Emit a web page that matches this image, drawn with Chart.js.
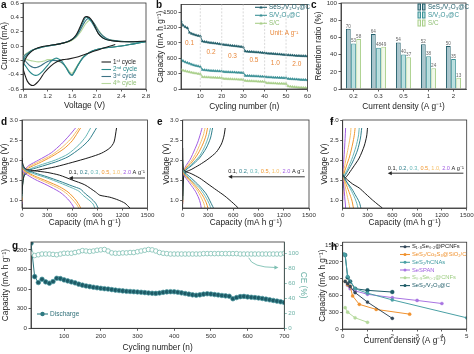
<!DOCTYPE html>
<html><head><meta charset="utf-8">
<script src="https://cdn.jsdelivr.net/npm/chart.js@4.4.0/dist/chart.umd.min.js"></script>
<style>
html,body{margin:0;padding:0;background:#fff;}
#wrap{position:relative;width:474px;height:354px;overflow:hidden;background:#fff;}
#wrap canvas{position:absolute;left:0;top:0;}
</style></head><body><div id="wrap"></div>
<script>
// ---------------- DATA ----------------
// a: cyclic voltammetry (voltage V, current mA)
const cvLabels = ['1ˢᵗ cycle','2ⁿᵈ cycle','3ʳᵈ cycle','4ᵗʰ cycle'];
const cv1V = [2.30,2.10,1.90,1.70,1.55,1.45,1.35,1.25,1.15,1.08,1.02,0.97,0.92,0.87,0.83,0.80,0.82,0.86,0.92,1.00,1.10,1.25,1.45,1.58,1.66,1.72,1.77,1.80,1.84,1.90,1.96,2.02,2.10,2.20,2.40,2.60,2.80];
const cv1I = [0.02,-0.03,-0.09,-0.15,-0.18,-0.19,-0.22,-0.28,-0.37,-0.46,-0.52,-0.55,-0.54,-0.49,-0.40,-0.30,-0.22,-0.15,-0.09,-0.04,-0.01,0.01,0.04,0.08,0.15,0.25,0.35,0.40,0.41,0.38,0.29,0.18,0.11,0.08,0.06,0.06,0.07];
const cv2V = [2.80,2.60,2.40,2.20,2.00,1.88,1.78,1.70,1.64,1.60,1.56,1.50,1.44,1.38,1.33,1.27,1.20,1.12,1.05,1.00,0.95,0.90,0.85,0.80,0.83,0.88,0.95,1.05,1.20,1.40,1.55,1.65,1.72,1.78,1.82,1.86,1.92,1.98,2.05,2.15,2.30,2.50,2.80];
const cv2I = [0.06,0.03,0.00,-0.02,-0.05,-0.09,-0.16,-0.26,-0.36,-0.41,-0.39,-0.30,-0.22,-0.18,-0.17,-0.20,-0.27,-0.35,-0.40,-0.41,-0.39,-0.35,-0.29,-0.22,-0.16,-0.11,-0.06,-0.03,0.00,0.03,0.07,0.13,0.23,0.34,0.40,0.39,0.33,0.24,0.15,0.09,0.07,0.06,0.06];
const cv3V = [2.80,2.60,2.40,2.20,2.00,1.88,1.78,1.70,1.64,1.60,1.56,1.50,1.44,1.38,1.30,1.22,1.15,1.08,1.02,0.97,0.92,0.87,0.83,0.80,0.83,0.88,0.95,1.05,1.20,1.40,1.55,1.65,1.73,1.80,1.85,1.90,1.96,2.02,2.10,2.20,2.35,2.55,2.80];
const cv3I = [0.06,0.03,0.00,-0.02,-0.05,-0.09,-0.16,-0.26,-0.35,-0.40,-0.38,-0.30,-0.24,-0.21,-0.20,-0.21,-0.24,-0.28,-0.30,-0.30,-0.28,-0.24,-0.20,-0.17,-0.13,-0.10,-0.06,-0.03,0.00,0.03,0.07,0.12,0.22,0.33,0.38,0.37,0.31,0.22,0.14,0.09,0.07,0.06,0.06];
const cv4V = [2.80,2.60,2.40,2.20,2.00,1.88,1.78,1.70,1.64,1.60,1.56,1.50,1.44,1.36,1.28,1.20,1.14,1.08,1.02,0.96,0.90,0.85,0.80,0.83,0.88,0.95,1.05,1.20,1.40,1.55,1.65,1.74,1.82,1.88,1.92,1.97,2.03,2.10,2.20,2.35,2.55,2.80];
const cv4I = [0.06,0.03,0.00,-0.02,-0.05,-0.09,-0.15,-0.25,-0.33,-0.38,-0.36,-0.29,-0.24,-0.21,-0.19,-0.19,-0.21,-0.22,-0.22,-0.21,-0.20,-0.18,-0.15,-0.12,-0.09,-0.06,-0.03,0.00,0.03,0.06,0.11,0.20,0.31,0.36,0.35,0.30,0.22,0.14,0.09,0.07,0.06,0.06];

// b: rate capability (cycle, mA h/g)
const bLabels = ['SeS₂/V₂O₃@C','S/V₂O₃@C','S/C'];
const bCycles = [1,2,3,4,5,6,7,8,9,10,11,12,13,14,15,16,17,18,19,20,21,22,23,24,25,26,27,28,29,30,31,32,33,34,35,36,37,38,39,40,41,42,43,44,45,46,47,48,49,50,51,52,53,54,55,56,57,58,59,60];
const bSeS2 = [1320,1240,1210,1190,1100,1080,1065,1050,1040,1030, 930,920,915,905,900,895,890,885,878,872, 865,860,855,850,845,840,835,830,825,815, 735,730,728,725,722,718,715,712,708,703, 695,692,690,687,684,680,677,674,670,666, 662,659,656,653,650,648,646,644,642,640];
const bSV = [580,545,525,510,495,480,465,455,445,435, 375,370,365,362,358,355,352,350,348,345, 335,333,331,329,327,325,323,321,319,317, 260,258,256,254,252,250,248,246,244,242, 232,230,228,226,224,222,220,218,216,214, 200,197,194,191,188,185,182,180,178,176];
const bSC = [380,360,350,340,330,320,312,305,298,292, 235,232,230,228,226,224,222,220,218,215, 200,198,196,194,192,190,188,186,184,182, 160,158,156,154,152,150,148,146,144,142, 118,116,114,112,110,108,106,105,104,103, 55,48,42,38,34,30,28,26,24,22];
const bRates = ['0.1','0.2','0.3','0.5','1.0','2.0'];
const bRateCycle = [5,15,25,35,45,55];
const bRateCap = [900,720,640,560,510,480];
const bSeparators = [10,20,30,40,50];

// c: retention ratio
const cCats = ['0.2','0.3','0.5','1','2'];
const cSeS2 = [70,64,54,52,50];
const cSV = [53,48,40,38,35];
const cSC = [58,49,37,24,13];

// d/e/f: charge-discharge profiles, [capacity, voltage]
const rateLabels = ['0.1','0.2','0.3','0.5','1.0','2.0'];
const dDis = [
 [[0,2.05],[10,1.9],[40,1.78],[150,1.73],[300,1.69],[450,1.62],[600,1.5],[750,1.38],[880,1.2],[930,1.12],[1050,1.07],[1150,1.0],[1230,0.92],[1290,0.8]],
 [[0,1.98],[10,1.85],[40,1.76],[150,1.68],[300,1.58],[450,1.47],[600,1.35],[700,1.27],[760,1.15],[820,1.05],[880,0.92],[910,0.8]],
 [[0,1.95],[10,1.82],[40,1.74],[150,1.65],[300,1.55],[450,1.43],[600,1.3],[680,1.22],[740,1.1],[800,1.0],[850,0.9],[870,0.8]],
 [[0,1.9],[10,1.78],[40,1.72],[150,1.6],[300,1.47],[450,1.33],[550,1.2],[600,1.1],[650,0.98],[690,0.85],[700,0.8]],
 [[0,1.88],[10,1.76],[40,1.7],[150,1.57],[300,1.43],[450,1.28],[540,1.15],[600,1.02],[650,0.9],[680,0.8]],
 [[0,1.85],[10,1.72],[40,1.66],[150,1.52],[300,1.37],[450,1.2],[520,1.08],[570,0.97],[610,0.85],[620,0.8]]
];
const dChg = [
 [[0,1.15],[10,1.45],[30,1.62],[80,1.7],[200,1.75],[400,1.83],[600,1.94],[800,2.06],[950,2.17],[1050,2.3],[1100,2.45],[1130,2.8]],
 [[0,1.1],[10,1.45],[30,1.65],[80,1.74],[200,1.82],[400,1.95],[550,2.08],[700,2.3],[800,2.5],[890,2.8]],
 [[0,1.05],[10,1.45],[30,1.66],[80,1.76],[200,1.86],[400,2.0],[550,2.15],[680,2.38],[760,2.58],[820,2.8]],
 [[0,1.0],[10,1.5],[30,1.7],[80,1.8],[200,1.92],[350,2.08],[500,2.28],[600,2.48],[700,2.8]],
 [[0,0.95],[10,1.5],[30,1.72],[80,1.83],[200,1.96],[350,2.12],[480,2.32],[580,2.52],[680,2.8]],
 [[0,0.9],[10,1.55],[30,1.75],[80,1.86],[200,2.0],[350,2.18],[470,2.4],[560,2.6],[640,2.8]]
];
const eDis = [
 [[0,2.3],[5,1.8],[30,1.72],[100,1.66],[200,1.55],[300,1.4],[400,1.25],[500,1.1],[600,0.92],[660,0.8]],
 [[0,2.0],[5,1.75],[30,1.68],[100,1.55],[200,1.35],[280,1.15],[330,0.95],[365,0.8]],
 [[0,1.95],[5,1.72],[30,1.65],[100,1.5],[200,1.3],[260,1.12],[305,0.95],[335,0.8]],
 [[0,1.9],[5,1.7],[30,1.62],[100,1.47],[180,1.28],[240,1.1],[280,0.93],[300,0.8]],
 [[0,1.85],[5,1.68],[30,1.6],[100,1.43],[170,1.25],[215,1.08],[250,0.92],[265,0.8]],
 [[0,1.8],[5,1.65],[30,1.57],[90,1.4],[150,1.22],[190,1.05],[210,0.92],[220,0.8]]
];
const eChg = [
 [[0,1.1],[10,1.55],[40,1.7],[100,1.76],[200,1.88],[300,2.02],[400,2.2],[460,2.4],[490,2.6],[505,2.8]],
 [[0,1.0],[10,1.6],[40,1.75],[100,1.85],[200,2.05],[280,2.3],[330,2.55],[355,2.8]],
 [[0,1.0],[10,1.62],[40,1.77],[100,1.88],[200,2.1],[260,2.33],[305,2.58],[330,2.8]],
 [[0,0.95],[10,1.65],[40,1.8],[100,1.92],[180,2.15],[240,2.4],[275,2.6],[295,2.8]],
 [[0,0.9],[10,1.68],[40,1.83],[100,1.97],[160,2.18],[210,2.42],[245,2.62],[265,2.8]],
 [[0,0.9],[10,1.7],[40,1.86],[90,2.02],[140,2.25],[180,2.45],[210,2.65],[230,2.8]]
];
const fDis = [
 [[0,1.62],[20,1.58],[60,1.5],[120,1.4],[200,1.3],[280,1.15],[360,1.0],[430,0.88],[480,0.8]],
 [[0,1.65],[20,1.55],[60,1.42],[110,1.28],[160,1.1],[200,0.95],[220,0.8]],
 [[0,1.68],[20,1.55],[60,1.4],[100,1.25],[140,1.08],[170,0.92],[185,0.8]],
 [[0,1.7],[20,1.52],[50,1.35],[80,1.18],[110,1.0],[130,0.8]],
 [[0,1.72],[15,1.5],[35,1.3],[55,1.1],[75,0.92],[85,0.8]],
 [[0,1.75],[8,1.5],[18,1.25],[25,1.05],[32,0.9],[35,0.8]]
];
const fChg = [
 [[0,1.3],[15,1.5],[60,1.62],[120,1.8],[200,2.05],[260,2.35],[290,2.6],[300,2.8]],
 [[0,1.25],[15,1.55],[60,1.72],[120,1.95],[180,2.25],[215,2.55],[230,2.8]],
 [[0,1.2],[15,1.58],[60,1.78],[110,2.02],[160,2.33],[190,2.6],[200,2.8]],
 [[0,1.15],[12,1.62],[45,1.85],[85,2.1],[120,2.4],[140,2.62],[150,2.8]],
 [[0,1.1],[10,1.66],[30,1.92],[55,2.18],[80,2.45],[95,2.65],[100,2.8]],
 [[0,1.0],[5,1.7],[12,1.95],[20,2.2],[28,2.5],[33,2.7],[35,2.8]]
];

// g: long cycling
const gCycles = [10,20,30,40,50,60,70,80,90,100,110,120,130,140,150,160,170,180,190,200,210,220,230,240,250,260,270,280,290,300,310,320,330,340,350,360,370,380,390,400,410,420,430,440,450,460,470,480,490,500,510,520,530,540,550,560,570,580,590,600,610,620,630,640,650,660,670,680,690,700];
const gCap = [1300,790,700,750,710,690,715,765,760,740, 725,710,695,675,660,648,638,628,620,612, 606,600,592,584,578,572,566,563,560,556, 551,546,541,536,534,540,550,557,560,558, 552,542,532,522,512,506,512,522,528,524, 516,510,502,496,490,452,470,484,488,480, 475,470,464,456,446,436,426,416,406,395];
const gCE = [100,97,98,99,99,99,98.5,98,99,100, 100,100,101,102,103.5,103,102.5,103,104,104.5, 105,103,100.5,100,100,100.5,100.5,101,101,102, 103,104,105,104.5,103,101,100,99.5,99,99, 99,99,99,99,99,99,99,99.5,99.5,99.5, 99.5,99.5,99.5,99.5,99.5,99.5,99.5,99,99,99, 99,99,99,99,99,99,99,99,99,100];

// h: comparison with literature
const hLabels = ['S₁.₈Se₀.₂@PCNFs','SeS₂/Co₉S₈@SiO₂/C','SeS₂/hCNAs','SeSPAN','S₀.₉Se₀.₁@CNFs','SeS₂/V₂O₃@C'];
const hX = [
 [0.1,0.2,0.3,0.5,1,2],
 [0.1,0.2,0.3,0.4,0.67,1.35,2.7],
 [0.05,0.1,0.2,0.5,1,2,5],
 [0.2,0.3,0.5,1,2,3,4],
 [0.1,0.2,0.5,1],
 [0.1,0.2,0.3,0.5,1,2]
];
const hY = [
 [850,810,760,650,480,190],
 [850,790,760,590,440,350,265],
 [1340,1320,940,720,640,520,200],
 [780,720,680,620,560,510,455],
 [380,300,200,120],
 [1320,920,850,720,690,660]
];

// ---------------- STYLE / HELPERS ----------------
const PW = 474, PH = 354;
const FF = "'Liberation Sans', Arial, sans-serif";
const TS = 6.2, TT = 8.3;
const HALF = TT * 1.2 / 2;
const AX = '#333';
const C_DARK = '#235f6b', C_TEAL = '#3a9096', C_GREEN = '#a9cf8a';
const rateColors = ['#1a1a1a','#2f7f8c','#66b7b7','#f0962e','#f5c06a','#a25ee2'];
const wrap = document.getElementById('wrap');

const f1 = v => Number(v).toFixed(1);
const f0 = v => String(Math.round(v));

function linAxis(pos, min, max, ticks, fmt, title, color) {
  const c = color || AX;
  return {
    type: 'linear', position: pos, min: min, max: max,
    afterBuildTicks: s => { s.ticks = ticks.map(v => ({ value: v })); },
    ticks: { font: { family: FF, size: TS }, color: c, padding: 1.5, maxRotation: 0, autoSkip: false, callback: v => fmt(v) },
    grid: { display: true, drawOnChartArea: false, drawTicks: true, tickLength: 2.5, color: c, lineWidth: 0.8 },
    border: { display: true, color: c, width: 0.8 },
    title: { display: true, text: title, font: { family: FF, size: TT }, color: color || '#222', padding: 0 }
  };
}

function txt(ctx, s, x, y, o) {
  o = o || {};
  ctx.save();
  ctx.font = (o.weight || 'normal') + ' ' + (o.size || 7) + 'px ' + FF;
  ctx.fillStyle = o.color || '#222';
  ctx.textAlign = o.align || 'left';
  ctx.textBaseline = o.base || 'middle';
  ctx.fillText(s, x, y);
  const w = ctx.measureText(s).width;
  ctx.restore();
  return w;
}

function build(geo, cfg, draw) {
  const cv = document.createElement('canvas');
  cv.width = PW; cv.height = PH;
  wrap.appendChild(cv);
  cfg.options = Object.assign({
    responsive: false, animation: false, devicePixelRatio: 1, events: [],
    plugins: { legend: { display: false }, tooltip: { enabled: false } }
  }, cfg.options);
  const padLeft = geo.yTitleX - HALF;
  const xBottom = geo.xTitleY + HALF;
  const rEdge = geo.rTitleX != null ? geo.rTitleX + HALF : geo.R;
  cfg.options.layout = { padding: { left: padLeft, top: geo.T, right: PW - rEdge, bottom: PH - xBottom } };
  const z = sc => { sc.paddingLeft = 0; sc.paddingRight = 0; sc.paddingTop = 0; sc.paddingBottom = 0; };
  const s = cfg.options.scales;
  s.x.afterFit = sc => { sc.height = xBottom - geo.B; z(sc); };
  s.y.afterFit = sc => { sc.width = geo.L - padLeft; z(sc); };
  if (s.y2) s.y2.afterFit = sc => { sc.width = rEdge - geo.R; z(sc); };
  cfg.plugins = [{
    id: 'deco',
    afterDraw: ch => {
      const ctx = ch.ctx, a = ch.chartArea;
      ctx.save(); ctx.strokeStyle = AX; ctx.lineWidth = 0.8;
      ctx.strokeRect(a.left, a.top, a.right - a.left, a.bottom - a.top);
      ctx.restore();
      if (draw) draw(ch, ctx);
      txt(ctx, geo.letter, geo.lx, geo.ly, { size: 10, weight: 'bold', color: '#111' });
    }
  }];
  return new Chart(cv, cfg);
}

function pairs(xs, ys) { return xs.map((x, i) => ({ x: x, y: ys[i] })); }
function pts(arr) { return arr.map(p => ({ x: p[0], y: p[1] })); }

function legendLine(ctx, x0, x1, y, color, style, r) {
  ctx.save();
  ctx.strokeStyle = color; ctx.lineWidth = 1.1;
  ctx.beginPath(); ctx.moveTo(x0, y); ctx.lineTo(x1, y); ctx.stroke();
  if (style) {
    const cx = (x0 + x1) / 2;
    ctx.fillStyle = color;
    ctx.beginPath();
    if (style === 'triangle') { ctx.moveTo(cx, y - r); ctx.lineTo(cx + r, y + r * 0.8); ctx.lineTo(cx - r, y + r * 0.8); ctx.closePath(); }
    else { ctx.arc(cx, y, r, 0, Math.PI * 2); }
    ctx.fill();
  }
  ctx.restore();
}

function arrowLeft(ctx, x0, x1, y) {
  ctx.save(); ctx.strokeStyle = '#222'; ctx.fillStyle = '#222'; ctx.lineWidth = 0.9;
  ctx.beginPath(); ctx.moveTo(x0, y); ctx.lineTo(x1 + 3, y); ctx.stroke();
  ctx.beginPath(); ctx.moveTo(x1, y); ctx.lineTo(x1 + 4, y - 2); ctx.lineTo(x1 + 4, y + 2); ctx.closePath(); ctx.fill();
  ctx.restore();
}

function rateNote(ch, ctx, xStart, yText, yArrow, xEnd) {
  const sx = ch.scales.x, sy = ch.scales.y;
  let x = sx.getPixelForValue(xStart);
  const yt = sy.getPixelForValue(yText);
  rateLabels.forEach((r, i) => {
    x += txt(ctx, r + (i < 5 ? ', ' : ' '), x, yt, { size: 5.6, color: rateColors[i] });
  });
  txt(ctx, 'A g⁻¹', x, yt, { size: 5.6, color: '#222' });
  arrowLeft(ctx, sx.getPixelForValue(xEnd), sx.getPixelForValue(xStart), sy.getPixelForValue(yArrow));
}

// ---------------- PANEL a ----------------
const cvV = [cv1V, cv2V, cv3V, cv4V], cvI = [cv1I, cv2I, cv3I, cv4I];
const cvColors = ['#1e1e1e', '#2a8a8c', '#3c7385', '#b7d89d'];
build({ L: 23, R: 146, T: 3, B: 89, yTitleX: 5, xTitleY: 106, letter: 'a', lx: 1, ly: 5 }, {
  type: 'scatter',
  data: { datasets: cvV.map((V, i) => ({ data: pairs(V, cvI[i]), showLine: true, borderColor: cvColors[i], borderWidth: 1.1, pointRadius: 0, tension: 0.3 })) },
  options: { scales: {
    x: linAxis('bottom', 0.8, 2.8, [0.8, 1.2, 1.6, 2.0, 2.4, 2.8], f1, 'Voltage (V)'),
    y: linAxis('left', -0.6, 0.6, [-0.6, -0.4, -0.2, 0, 0.2, 0.4, 0.6], f1, 'Current (mA)')
  } }
}, (ch, ctx) => {
  const ys = [62, 69.5, 76.5, 83.5];
  cvLabels.forEach((l, i) => {
    legendLine(ctx, 101.5, 111, ys[i], cvColors[i]);
    txt(ctx, l, 113, ys[i], { size: 6.3, color: i === 3 ? '#8fbf73' : cvColors[i] });
  });
});

// ---------------- PANEL b ----------------
const bColors = [C_DARK, C_TEAL, C_GREEN];
const bSeries = [bSeS2, bSV, bSC];
build({ L: 181, R: 307.5, T: 3, B: 89, yTitleX: 161, xTitleY: 107, letter: 'b', lx: 156, ly: 5 }, {
  type: 'scatter',
  data: { datasets: bSeries.map((s, i) => ({ data: pairs(bCycles, s), showLine: true, borderColor: bColors[i], backgroundColor: bColors[i], borderWidth: 0.9, pointStyle: 'triangle', pointRadius: 1.5, pointBorderWidth: 0.4 })) },
  options: { scales: {
    x: linAxis('bottom', 1, 60, [10, 20, 30, 40, 50, 60], f0, 'Cycling number (n)'),
    y: linAxis('left', 0, 1650, [0, 300, 600, 900, 1200, 1500], f0, 'Capacity (mA h g⁻¹)')
  } }
}, (ch, ctx) => {
  const sx = ch.scales.x, sy = ch.scales.y, a = ch.chartArea;
  ctx.save(); ctx.strokeStyle = '#c8c8c8'; ctx.lineWidth = 0.7; ctx.setLineDash([2, 1.5]);
  bSeparators.forEach(c => { const x = sx.getPixelForValue(c); ctx.beginPath(); ctx.moveTo(x, a.top); ctx.lineTo(x, a.bottom); ctx.stroke(); });
  ctx.restore();
  bRates.forEach((r, i) => txt(ctx, r, sx.getPixelForValue(bRateCycle[i]), sy.getPixelForValue(bRateCap[i]), { size: 6.5, color: '#e8873a', align: 'center' }));
  const ys = [7.3, 15.3, 23.3];
  bLabels.forEach((l, i) => {
    legendLine(ctx, 255, 267, ys[i], bColors[i], 'triangle', 1.6);
    txt(ctx, l, 269, ys[i], { size: 6.3, color: i === 2 ? '#8fbf73' : bColors[i] });
  });
  txt(ctx, 'Unit: A g⁻¹', 270, 33, { size: 6.3, color: '#e8873a' });
});

// ---------------- PANEL c ----------------
const cFill = ['#a9c5cd', '#b9dede', '#f1f8ea'];
const cBorder = [C_DARK, C_TEAL, C_GREEN];
const cSeries = [cSeS2, cSV, cSC];
const cAxisX = {
  type: 'category', position: 'bottom', offset: true,
  ticks: { font: { family: FF, size: TS }, color: AX, padding: 1.5, maxRotation: 0, autoSkip: false },
  grid: { display: true, offset: false, drawOnChartArea: false, drawTicks: true, tickLength: 2.5, color: AX, lineWidth: 0.8 },
  border: { display: true, color: AX, width: 0.8 },
  title: { display: true, text: 'Current density (A g⁻¹)', font: { family: FF, size: TT }, color: '#222', padding: 0 }
};
build({ L: 341, R: 466, T: 3, B: 89, yTitleX: 319, xTitleY: 107, letter: 'c', lx: 311, ly: 5 }, {
  type: 'bar',
  data: { labels: cCats, datasets: cSeries.map((s, i) => ({ data: s, backgroundColor: cFill[i], borderColor: cBorder[i], borderWidth: 1, categoryPercentage: 0.62, barPercentage: 0.92 })) },
  options: { scales: {
    x: cAxisX,
    y: linAxis('left', 0, 100, [0, 20, 40, 60, 80, 100], f0, 'Retention ratio (%)')
  } }
}, (ch, ctx) => {
  cSeries.forEach((s, i) => {
    const meta = ch.getDatasetMeta(i);
    meta.data.forEach((b, j) => txt(ctx, String(s[j]), b.x, b.y - 2.5, { size: 4.6, color: '#666', align: 'center' }));
  });
  const ys = [7, 15, 23];
  bLabels.forEach((l, i) => {
    ctx.save(); ctx.fillStyle = cFill[i]; ctx.strokeStyle = cBorder[i]; ctx.lineWidth = 1;
    ctx.fillRect(418, ys[i] - 3, 2.5, 6); ctx.strokeRect(418, ys[i] - 3, 2.5, 6);
    ctx.fillRect(422.5, ys[i] - 3, 2.5, 6); ctx.strokeRect(422.5, ys[i] - 3, 2.5, 6);
    ctx.restore();
    txt(ctx, l, 428, ys[i], { size: 6.3, color: i === 2 ? '#8fbf73' : cBorder[i] });
  });
});

// ---------------- PANELS d, e, f ----------------
function gcdDatasets(dis, chg) {
  const ds = [];
  dis.forEach((c, i) => ds.push({ data: pts(c), showLine: true, borderColor: rateColors[i], borderWidth: 1, pointRadius: 0, tension: 0.25 }));
  chg.forEach((c, i) => ds.push({ data: pts(c), showLine: true, borderColor: rateColors[i], borderWidth: 1, pointRadius: 0, tension: 0.25 }));
  return ds;
}
function gcdScales() {
  return {
    x: linAxis('bottom', 0, 1500, [0, 300, 600, 900, 1200, 1500], f0, 'Capacity (mA h g⁻¹)'),
    y: linAxis('left', 0.8, 3.0, [1.0, 1.5, 2.0, 2.5, 3.0], f1, 'Voltage (V)')
  };
}
build({ L: 22, R: 147.5, T: 120, B: 208, yTitleX: 5, xTitleY: 223, letter: 'd', lx: 1, ly: 122 }, {
  type: 'scatter', data: { datasets: gcdDatasets(dDis, dChg) }, options: { scales: gcdScales() }
}, (ch, ctx) => rateNote(ch, ctx, 560, 1.68, 1.55, 1470));
build({ L: 182.7, R: 309, T: 120, B: 208, yTitleX: 166.5, xTitleY: 223, letter: 'e', lx: 157, ly: 122 }, {
  type: 'scatter', data: { datasets: gcdDatasets(eDis, eChg) }, options: { scales: gcdScales() }
}, (ch, ctx) => rateNote(ch, ctx, 540, 1.72, 1.58, 1450));
build({ L: 342.7, R: 466.7, T: 120, B: 208, yTitleX: 325, xTitleY: 223, letter: 'f', lx: 330, ly: 122 }, {
  type: 'scatter', data: { datasets: gcdDatasets(fDis, fChg) }, options: { scales: gcdScales() }
}, (ch, ctx) => rateNote(ch, ctx, 545, 1.8, 1.67, 1460));

// ---------------- PANEL g ----------------
const CE_C = '#7dbfb2';
build({ L: 31, R: 284.3, T: 242, B: 328.3, yTitleX: 6, xTitleY: 348, rTitleX: 303, letter: 'g', lx: 12, ly: 246 }, {
  type: 'scatter',
  data: { datasets: [
    { data: pairs(gCycles, gCE), yAxisID: 'y2', showLine: false, pointRadius: 2.3, pointBorderWidth: 0.8, borderColor: CE_C, backgroundColor: '#ffffff' },
    { data: pairs(gCycles, gCap), yAxisID: 'y', showLine: true, borderColor: '#2f7a82', borderWidth: 1, pointRadius: 2.3, pointBorderWidth: 0.7, pointBorderColor: '#4a9aa0', pointBackgroundColor: '#1d5a66' }
  ] },
  options: { scales: {
    x: linAxis('bottom', 10, 700, [100, 200, 300, 400, 500, 600, 700], f0, 'Cycling number (n)'),
    y: linAxis('left', 0, 1320, [0, 300, 600, 900, 1200], f0, 'Capacity (mA h g⁻¹)'),
    y2: linAxis('right', 0, 115, [0, 20, 40, 60, 80, 100], f0, 'CE (%)', '#6fb3a8')
  } }
}, (ch, ctx) => {
  const sx = ch.scales.x, sy = ch.scales.y2;
  const x0 = sx.getPixelForValue(603), y0 = sy.getPixelForValue(94);
  const xc = sx.getPixelForValue(612), yc = sy.getPixelForValue(81);
  const x1 = sx.getPixelForValue(684), y1 = sy.getPixelForValue(81);
  ctx.save(); ctx.strokeStyle = CE_C; ctx.fillStyle = CE_C; ctx.lineWidth = 0.9;
  ctx.beginPath(); ctx.moveTo(x0, y0); ctx.quadraticCurveTo(xc, yc, x1 - 3, y1); ctx.stroke();
  ctx.beginPath(); ctx.moveTo(x1, y1); ctx.lineTo(x1 - 4, y1 - 2); ctx.lineTo(x1 - 4, y1 + 2); ctx.closePath(); ctx.fill();
  ctx.restore();
  legendLine(ctx, 37, 48, 314, '#2f7a82', 'circle', 2.2);
  txt(ctx, 'Discharge', 50, 314, { size: 6.5, color: '#2f6f78' });
});

// ---------------- PANEL h ----------------
const hColors = ['#34495a', '#f0922f', '#4aa0a5', '#a874e2', '#b5d99c', '#1d5b67'];
const hText = ['#222', '#f0922f', '#3f9aa0', '#a060e0', '#9ccc80', '#1d5b67'];
build({ L: 342.7, R: 466.7, T: 242.2, B: 329, yTitleX: 323, xTitleY: 341, letter: 'h', lx: 331, ly: 247 }, {
  type: 'scatter',
  data: { datasets: hX.map((xs, i) => ({ data: pairs(xs, hY[i]), showLine: true, borderColor: hColors[i], backgroundColor: hColors[i], borderWidth: 1, pointRadius: i === 5 ? 2 : 1.6, pointBorderWidth: 0.3 })) },
  options: { scales: {
    x: linAxis('bottom', 0, 5, [0, 1, 2, 3, 4, 5], f0, 'Current density (A g⁻¹)'),
    y: linAxis('left', 0, 1550, [0, 300, 600, 900, 1200, 1500], f0, 'Capacity (mA h g⁻¹)')
  } }
}, (ch, ctx) => {
  const ys = [246.7, 254.5, 262.3, 270, 277.8, 285.6];
  hLabels.forEach((l, i) => {
    legendLine(ctx, 400, 410, ys[i], hColors[i], 'circle', 1.5);
    txt(ctx, l, 412, ys[i], { size: 5.8, color: hText[i] });
  });
});
</script></body></html>
